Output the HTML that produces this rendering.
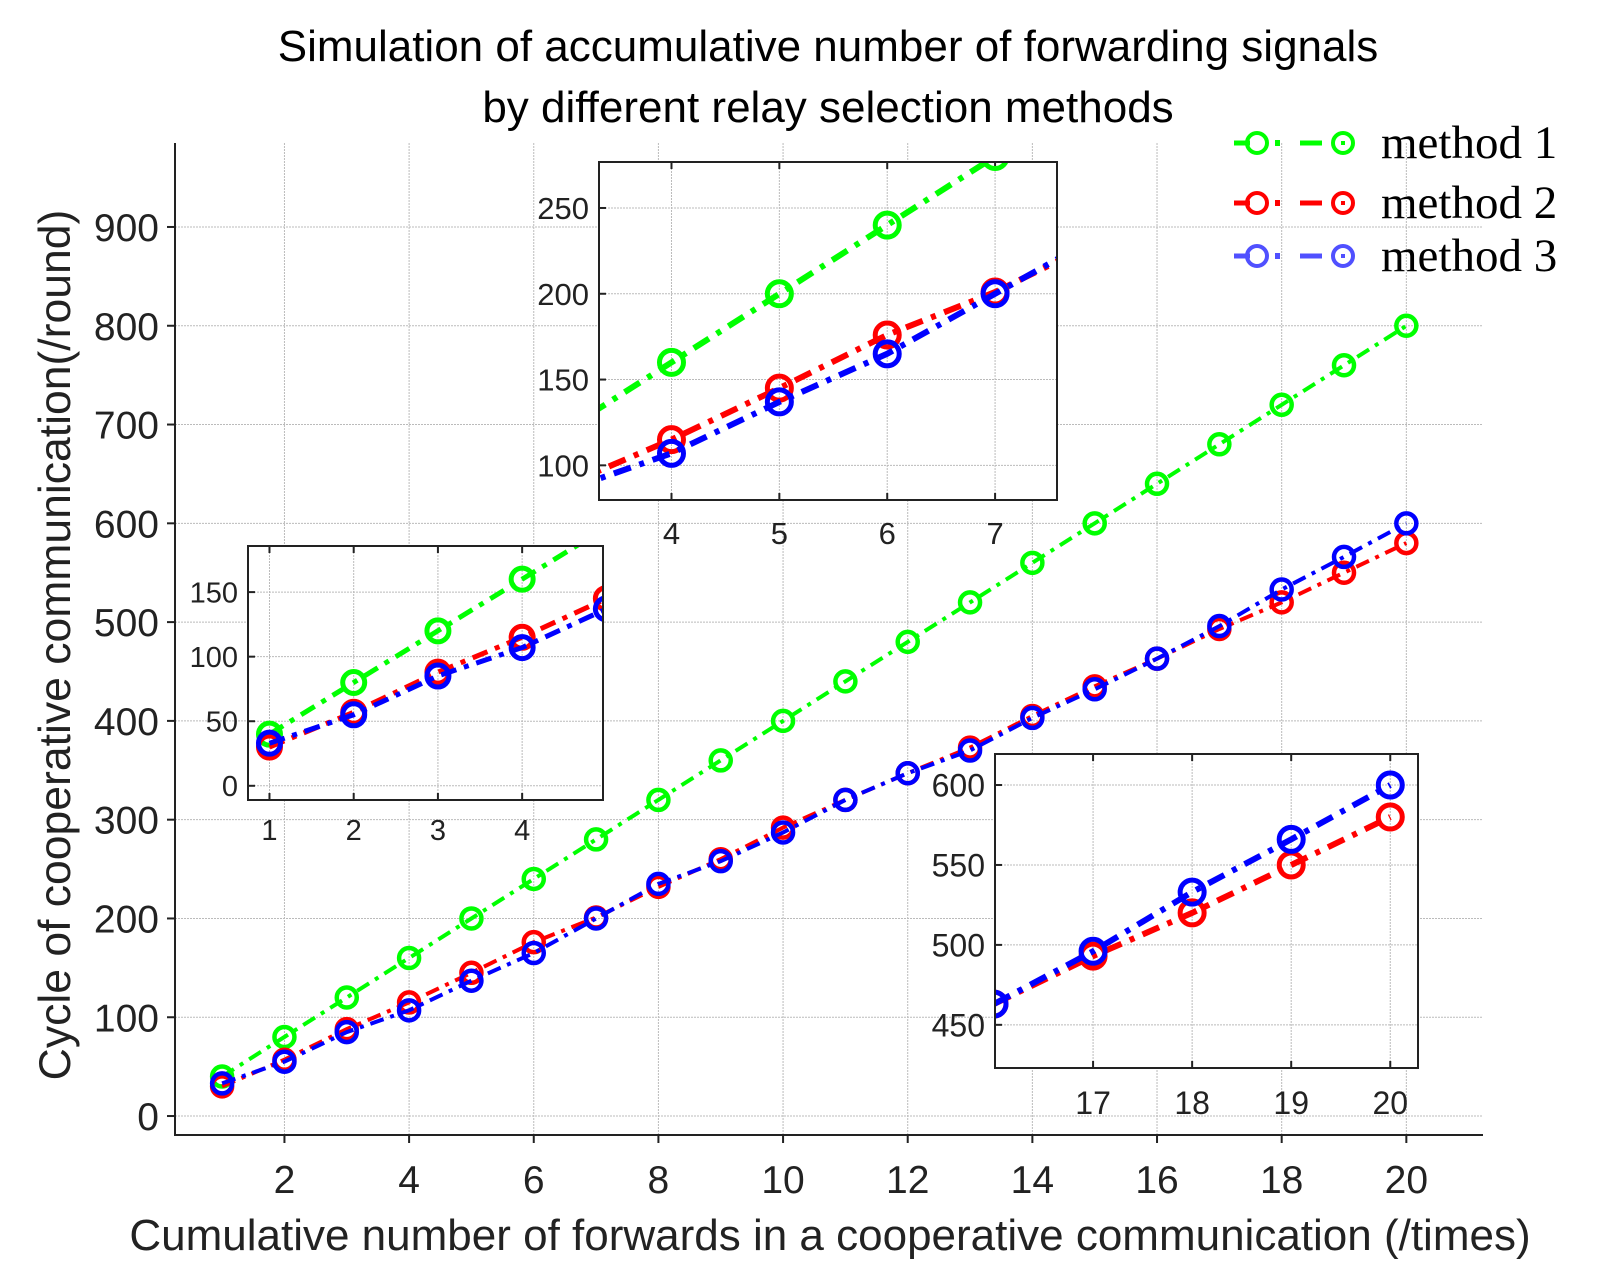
<!DOCTYPE html>
<html><head><meta charset="utf-8"><style>
html,body{margin:0;background:#fff;overflow:hidden;width:1599px;height:1284px}
svg{display:block;position:absolute;left:0;top:0}
svg text{font-family:"Liberation Sans",sans-serif;fill:#222}
</style></head><body>
<svg id="s" width="1599" height="1284" xmlns="http://www.w3.org/2000/svg" overflow="hidden"></svg>
<script>
const S=document.getElementById('s');let h='';
const m1=[],m2=[30,57,88,115,145,176,201,232,260,292,320,347,373,405,435,463,493,520,550,580],m3=[33,55,85,107,137,165,200,235,258,287,320,347,370,403,432,463,496,533,566,600];
for(let i=1;i<=20;i++)m1.push(40*i);
const series=[[m1,'#00ff00'],[m2,'#ff0000'],[m3,'#0000ff']];
function axes(o){
 const X=v=>o.x0+(v-o.xa)/(o.xb-o.xa)*(o.x1-o.x0);
 const Y=v=>o.y1-(v-o.ya)/(o.yb-o.ya)*(o.y1-o.y0);
 if(o.bg)h+=`<rect x="${o.x0}" y="${o.y0}" width="${o.x1-o.x0}" height="${o.y1-o.y0}" fill="#fff"/>`;
 o.xt.forEach(v=>{h+=`<line x1="${X(v)}" x2="${X(v)}" y1="${o.y0}" y2="${o.y1}" stroke="#bbb" stroke-width="1" stroke-dasharray="2 1"/>`;
  h+=`<text x="${X(v)}" y="${o.y1+o.xlo}" font-size="${o.fs}" text-anchor="middle">${v}</text>`;});
 o.yt.forEach(v=>{h+=`<line x1="${o.x0}" x2="${o.x1}" y1="${Y(v)}" y2="${Y(v)}" stroke="#bbb" stroke-width="1" stroke-dasharray="2 1"/>`;
  h+=`<text x="${o.x0-o.ylo}" y="${Y(v)+o.fs*0.36}" font-size="${o.fs}" text-anchor="end">${v}</text>`;
  h+=o.box?`<line x1="${o.x0}" x2="${o.x0+7}" y1="${Y(v)}" y2="${Y(v)}" stroke="#222" stroke-width="2"/>`:`<line x1="${o.x0-8}" x2="${o.x0}" y1="${Y(v)}" y2="${Y(v)}" stroke="#222" stroke-width="2"/>`;});
 o.xt.forEach(v=>{h+=o.box?`<line x1="${X(v)}" x2="${X(v)}" y1="${o.y1-7}" y2="${o.y1}" stroke="#222" stroke-width="2"/><line x1="${X(v)}" x2="${X(v)}" y1="${o.y0}" y2="${o.y0+7}" stroke="#222" stroke-width="2"/>`:`<line x1="${X(v)}" x2="${X(v)}" y1="${o.y1}" y2="${o.y1+8}" stroke="#222" stroke-width="2"/>`;});
 const id='c'+Math.round(o.x0);
 h+=`<clipPath id="${id}"><rect x="${o.x0}" y="${o.y0}" width="${o.x1-o.x0}" height="${o.y1-o.y0}"/></clipPath><g clip-path="url(#${id})">`;
 series.forEach(([d,c])=>{
  let p=d.map((v,i)=>X(i+1).toFixed(1)+','+Y(v).toFixed(1)).join(' ');
  h+=`<polyline points="${p}" fill="none" stroke="${c}" stroke-width="${o.lw}" stroke-dasharray="${o.da}"/>`;
  d.forEach((v,i)=>{const x=X(i+1),y=Y(v);if(x>o.x0-20&&x<o.x1+20&&y>o.y0-20&&y<o.y1+20)h+=`<circle cx="${x}" cy="${y}" r="${o.r}" fill="none" stroke="${c}" stroke-width="${o.cw}"/>`;});
 });
 h+='</g>';
 if(o.box)h+=`<rect x="${o.x0}" y="${o.y0}" width="${o.x1-o.x0}" height="${o.y1-o.y0}" fill="none" stroke="#222" stroke-width="2"/>`;
 else h+=`<polyline points="${o.x0},${o.y0} ${o.x0},${o.y1} ${o.x1},${o.y1}" fill="none" stroke="#222" stroke-width="2"/>`;
}
axes({x0:175,x1:1483,y0:143,y1:1135,xa:0.244,xb:21.23,ya:-19.2,yb:985,xt:[2,4,6,8,10,12,14,16,18,20],yt:[0,100,200,300,400,500,600,700,800,900],fs:39,xlo:58,ylo:16,lw:4,da:"14 7 4 7",r:10,cw:4.5});
axes({x0:248,x1:603,y0:546,y1:800,xa:0.745,xb:4.96,ya:-11,yb:185.7,xt:[1,2,3,4],yt:[0,50,100,150],fs:29,xlo:40,ylo:10,lw:5,da:"16 8 5 8",r:11,cw:5,box:1,bg:1});
axes({x0:599,x1:1057,y0:162,y1:500,xa:3.328,xb:7.574,ya:79.8,yb:276.8,xt:[4,5,6,7],yt:[100,150,200,250],fs:31,xlo:44,ylo:10,lw:6,da:"18 9 5 9",r:12,cw:5,box:1,bg:1});
axes({x0:995,x1:1418,y0:754,y1:1068,xa:16.01,xb:20.28,ya:423,yb:619.4,xt:[17,18,19,20],yt:[450,500,550,600],fs:32,xlo:46,ylo:10,lw:6,da:"18 9 5 9",r:12,cw:5,box:1,bg:1});
h+=`<text x="828" y="61" font-size="44" text-anchor="middle" style="fill:#000">Simulation of accumulative number of forwarding signals</text>`;
h+=`<text x="828" y="122" font-size="44" text-anchor="middle" style="fill:#000">by different relay selection methods</text>`;
h+=`<text x="830" y="1250" font-size="44" text-anchor="middle">Cumulative number of forwards in a cooperative communication (/times)</text>`;
h+=`<text transform="translate(70,645) rotate(-90)" font-size="44.5" text-anchor="middle">Cycle of cooperative communication(/round)</text>`;
[['#00ff00',143,'method 1'],['#ff0000',203,'method 2'],['#5050ff',256,'method 3']].forEach(([c,y,t])=>{
 h+=`<line x1="1234" x2="1250" y1="${y}" y2="${y}" stroke="${c}" stroke-width="5"/>`;
 h+=`<circle cx="1257" cy="${y}" r="10" fill="none" stroke="${c}" stroke-width="4"/>`;
 h+=`<rect x="1275" y="${y-3}" width="5" height="6" fill="${c}"/>`;
 h+=`<line x1="1300" x2="1322" y1="${y}" y2="${y}" stroke="${c}" stroke-width="5"/>`;
 h+=`<circle cx="1343" cy="${y}" r="10" fill="none" stroke="${c}" stroke-width="4"/>`;
 h+=`<rect x="1341" y="${y-2}" width="4" height="4" fill="${c}"/>`;
 h+=`<text x="1381" y="${y+15}" font-size="47" style="font-family:'Liberation Serif',serif;fill:#000">${t}</text>`;
});
S.innerHTML=h;
</script>
</body></html>
